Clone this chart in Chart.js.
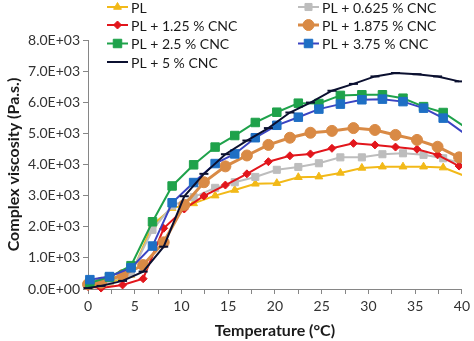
<!DOCTYPE html>
<html lang="en">
<head>
    <meta charset="UTF-8">
    <title>Complex viscosity vs temperature</title>
    <script src="https://cdn.jsdelivr.net/npm/chart.js"></script>
    <style>
        html, body { margin: 0; padding: 0; background: #fff; }
        #wrap { width: 474px; height: 341px; }
    </style>
</head>
<body>
    <div id="wrap"><canvas id="viscChart" width="474" height="341"></canvas></div>

    <script>
        // Temperatures (°C) - two sampling grids
        const tempA = [0.2, 2.3, 4.6, 6.9, 9.0, 11.3, 13.6, 15.7, 17.9, 20.2, 22.5, 24.7, 27.0, 29.3, 31.5, 33.7, 35.9, 38.0, 40.4];
        const tempB = [0, 1.4, 3.7, 5.9, 8.1, 10.3, 12.4, 14.7, 17.0, 19.3, 21.6, 23.8, 26.1, 28.4, 30.7, 32.9, 35.2, 37.4, 39.7];

        // Complex viscosity (Pa.s.)
        const pl       = [100, 200, 450, 2060, 2600, 2750, 3000, 3180, 3380, 3400, 3590, 3610, 3730, 3890, 3930, 3930, 3930, 3900, 3620];
        const cnc0625  = [150, 250, 500, 1900, 2680, 2950, 3250, 3430, 3600, 3830, 3920, 4040, 4230, 4230, 4330, 4360, 4310, 4200, 4000];
        const cnc125   = [80, 30, 130, 330, 1950, 2570, 2990, 3340, 3700, 4090, 4280, 4340, 4520, 4680, 4630, 4560, 4490, 4310, 3950];
        const cnc1875  = [150, 200, 450, 770, 1500, 2700, 3430, 3940, 4290, 4630, 4860, 5020, 5080, 5170, 5110, 4950, 4790, 4570, 4230];
        const cnc25    = [200, 380, 750, 2160, 3310, 3990, 4560, 4930, 5350, 5680, 5970, 5960, 6220, 6240, 6240, 6130, 5860, 5670, 5190];
        const cnc375   = [300, 400, 680, 1380, 2770, 3420, 4030, 4340, 4860, 5260, 5520, 5780, 5940, 6080, 6100, 6020, 5810, 5490, 4970];
        const cnc5     = [30, 100, 260, 560, 1360, 2980, 3700, 4330, 4770, 5170, 5670, 5990, 6370, 6590, 6830, 6940, 6900, 6830, 6670];

        const xTicks = [0, 5, 10, 15, 20, 25, 30, 35, 40];

        function pts(xs, ys) {
            return xs.map((x, i) => ({ x: x, y: ys[i] }));
        }

        // 8000 -> "8.0E+03"
        function sci(v) {
            if (v === 0) return '0.0E+00';
            const e = Math.floor(Math.log10(v));
            return (v / Math.pow(10, e)).toFixed(1) + 'E+' + String(e).padStart(2, '0');
        }

        function series(label, xs, ys, color, style, radius, width, markerColor) {
            return {
                label: label,
                data: pts(xs, ys),
                borderColor: color,
                backgroundColor: markerColor || color,
                borderWidth: width,
                pointStyle: style,
                // points past the axis end are not drawn (only the line reaches the edge)
                pointRadius: ctx => (ctx.raw && ctx.raw.x > 40 ? 0 : radius),
                pointBorderColor: markerColor || color,
                pointBackgroundColor: markerColor || color,
                pointBorderWidth: style === 'line' ? 2 : 1,
                pointHoverRadius: radius,
                tension: 0,
                fill: false,
                clip: { left: 8, top: 8, bottom: 8, right: 0 }
            };
        }

        const datasets = [
            series('PL', tempA, pl, '#F2B918', 'triangle', 4.5, 2),
            series('PL + 0.625 % CNC', tempA, cnc0625, '#BDBDBD', 'rect', 5, 2),
            series('PL + 1.25 % CNC', tempB, cnc125, '#E2161C', 'rectRot', 4, 2),
            series('PL + 1.875 % CNC', tempB, cnc1875, '#D98A45', 'circle', 5.5, 3),
            series('PL + 2.5 % CNC', tempA, cnc25, '#1FA24B', 'rect', 6, 2),
            series('PL + 3.75 % CNC', tempA, cnc375, '#3A44C2', 'rect', 6, 2, '#1E6FC4'),
            series('PL + 5 % CNC', tempB, cnc5, '#0B1030', 'line', 4.5, 2)
        ];
        // later series on top, like the original
        datasets.forEach((d, i) => { d.order = datasets.length - 1 - i; });

        // two-column legend drawn over the top of the plot
        const cornerLegend = {
            id: 'cornerLegend',
            afterDraw(chart) {
                const ctx = chart.ctx;
                const rowY = [7, 25, 43.5, 62];
                ctx.save();
                ctx.font = '14px Lato, sans-serif';
                ctx.textBaseline = 'middle';
                ctx.textAlign = 'left';
                chart.data.datasets.forEach((ds, i) => {
                    const x0 = i % 2 === 0 ? 107 : 298;
                    const y = rowY[Math.floor(i / 2)];
                    ctx.strokeStyle = ds.borderColor;
                    ctx.lineWidth = ds.borderWidth;
                    ctx.beginPath();
                    ctx.moveTo(x0, y);
                    ctx.lineTo(x0 + 21, y);
                    ctx.stroke();
                    ctx.fillStyle = ds.pointBackgroundColor;
                    ctx.strokeStyle = ds.pointBorderColor;
                    ctx.lineWidth = ds.pointBorderWidth;
                    const r = ds.pointHoverRadius;
                    Chart.helpers.drawPoint(ctx, { pointStyle: ds.pointStyle, radius: r, borderWidth: ds.pointBorderWidth, rotation: 0 }, x0 + 10.5, y);
                    ctx.fillStyle = '#1a1a1a';
                    ctx.fillText(ds.label, x0 + 24, y + 1);
                });
                ctx.restore();
            }
        };

        Chart.defaults.font.family = "Lato, sans-serif";
        Chart.defaults.color = '#333';

        new Chart(document.getElementById('viscChart').getContext('2d'), {
            type: 'line',
            data: { datasets: datasets },
            options: {
                responsive: false,
                animation: false,
                devicePixelRatio: 1,
                layout: { padding: { top: 40, right: 8, bottom: 0, left: 0 } },
                plugins: {
                    legend: { display: false },
                    tooltip: { enabled: false }
                },
                scales: {
                    x: {
                        type: 'linear',
                        min: 0,
                        max: 40,
                        afterBuildTicks: axis => {
                            const t = [];
                            for (let v = 0; v <= 40; v += 2.5) t.push({ value: v });
                            axis.ticks = t;
                        },
                        ticks: {
                            autoSkip: false,
                            maxRotation: 0,
                            padding: 4,
                            font: { size: 14 },
                            color: '#333',
                            callback: v => (xTicks.includes(v) ? String(v) : '')
                        },
                        grid: { drawOnChartArea: false, drawTicks: true, tickLength: 5, color: '#868686', lineWidth: 1 },
                        border: { display: true, color: '#868686', width: 1 },
                        title: {
                            display: true,
                            text: 'Temperature (°C)',
                            font: { size: 16, weight: 'bold' },
                            color: '#1a1a1a',
                            padding: { top: 4, bottom: 1 }
                        },
                        afterFit: s => { s.height = 52; }
                    },
                    y: {
                        min: 0,
                        max: 8000,
                        ticks: {
                            stepSize: 1000,
                            padding: 3,
                            font: { size: 14 },
                            color: '#333',
                            callback: v => sci(v)
                        },
                        grid: { drawOnChartArea: false, drawTicks: true, tickLength: 5, color: '#868686', lineWidth: 1 },
                        border: { display: true, color: '#868686', width: 1 },
                        title: {
                            display: true,
                            text: 'Complex viscosity (Pa.s.)',
                            font: { size: 16, weight: 'bold' },
                            color: '#1a1a1a',
                            padding: { top: 4, bottom: 0 }
                        },
                        afterFit: s => { s.width = 88; }
                    }
                }
            },
            plugins: [cornerLegend]
        });
    </script>
</body>
</html>
